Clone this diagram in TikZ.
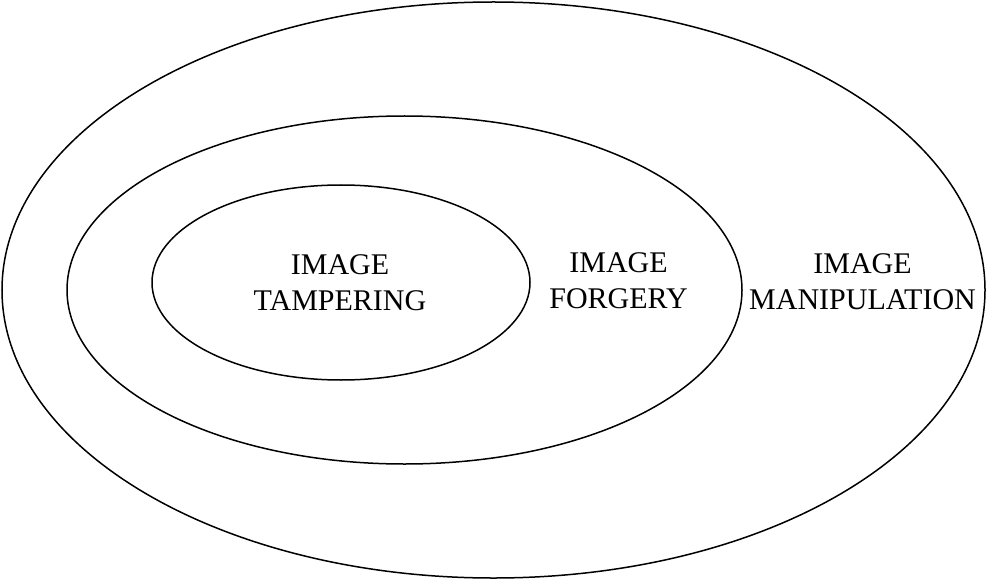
\documentclass[tikz,border=0pt]{standalone}
\usepackage{fontspec}
\setmainfont{Liberation Serif}
\begin{document}
\begin{tikzpicture}[x=1pt,y=-1pt]
\tikzstyle{every node}+=[inner sep=0pt]
\tikzset{setlabel/.style={align=center,font=\fontsize{30}{36}\selectfont}}
\useasboundingbox (0,0) rectangle (987,580);
\draw [black, line width=1.5pt] (493.5,290) ellipse (491.5 and 288);
\draw [black, line width=1.5pt] (404.5,290) ellipse (337.5 and 174);
\draw [black, line width=1.5pt] (341,282.5) ellipse (189 and 97.5);
\node [setlabel] (tampering) at (340,283) {IMAGE\\TAMPERING};
\node [setlabel] (forgery) at (618.5,281) {IMAGE\\FORGERY};
\node [setlabel] (manipulation) at (862.5,282) {IMAGE\\MANIPULATION};
\end{tikzpicture}
\end{document}
